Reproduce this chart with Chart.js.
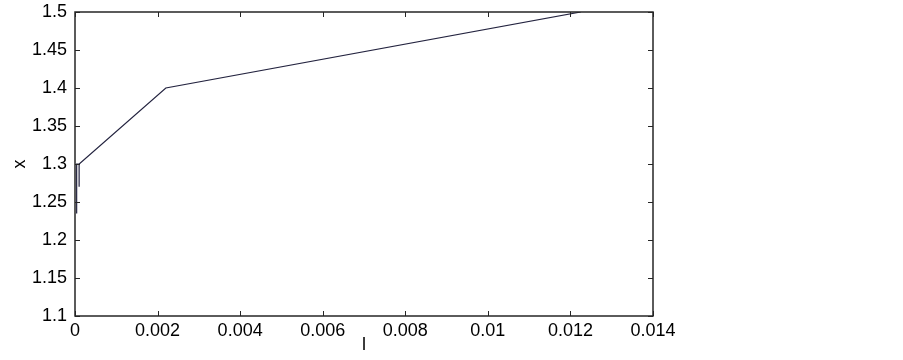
<!DOCTYPE html>
<html>
<head>
<meta charset="utf-8">
<script src="https://cdn.jsdelivr.net/npm/chart.js@4.4.1/dist/chart.umd.min.js"></script>
<style>
  html, body { margin: 0; padding: 0; background: #fff; }
  canvas { display: block; }
</style>
</head>
<body>
<canvas id="chart1" width="903" height="360" style="width:903px;height:360px"></canvas>
<script>

// curve (l on x axis, x on y axis)
const lValues = [0.00004, 0.00004, 0.0001, 0.0001, 0.0001, 0.0022, 0.01225];
const xValues = [1.235, 1.30, 1.30, 1.27, 1.30, 1.40, 1.50];

const xAxisTitle = 'l';
const yAxisTitle = 'x';

function getPoints() {
  var pts = new Array;
  for (let i = 0; i < lValues.length; i++) {
    pts.push({x: lValues[i], y: xValues[i]});
  }
  return pts;
}

function fmt(v) {
  return String(parseFloat(Number(v).toFixed(5)));
}

// box round the plot plus small ticks pointing inwards, like the original
const boxPlugin = {
  id: 'box',
  afterDraw(chart) {
    const ctx = chart.ctx;
    const a = chart.chartArea;
    const xs = chart.scales.x;
    const ys = chart.scales.y;
    const len = 5;
    ctx.save();
    ctx.strokeStyle = '#262626';
    ctx.lineWidth = 1;
    ctx.beginPath();
    xs.ticks.forEach(function(t) {
      const px = Math.round(xs.getPixelForValue(t.value)) + 0.5;
      ctx.moveTo(px, a.bottom); ctx.lineTo(px, a.bottom - len);
      ctx.moveTo(px, a.top); ctx.lineTo(px, a.top + len);
    });
    ys.ticks.forEach(function(t) {
      const py = Math.round(ys.getPixelForValue(t.value)) + 0.5;
      ctx.moveTo(a.left, py); ctx.lineTo(a.left + len, py);
      ctx.moveTo(a.right, py); ctx.lineTo(a.right - len, py);
    });
    ctx.stroke();
    ctx.lineWidth = 1.5;
    ctx.strokeRect(a.left, a.top, a.right - a.left, a.bottom - a.top);
    ctx.restore();
  }
};

Chart.defaults.font.family = '"Liberation Sans", Arial, sans-serif';
Chart.defaults.color = '#000';

const ctx1 = document.getElementById('chart1').getContext('2d');
const chart1 = new Chart(ctx1, {
  type: 'scatter',
  data: {
    datasets: [
      {
        data: getPoints(),
        showLine: true,
        borderColor: '#23233f',
        borderWidth: 1.2,
        pointRadius: 0,
        fill: false,
        tension: 0
      }
    ]
  },
  options: {
    responsive: false,
    animation: false,
    devicePixelRatio: 1,
    layout: { padding: { top: 12, right: 250, left: 0, bottom: 0 } },
    plugins: { legend: { display: false }, tooltip: { enabled: false } },
    scales: {
      x: {
        type: 'linear',
        min: 0,
        max: 0.014,
        grid: { display: false, drawTicks: false },
        border: { display: false },
        ticks: { stepSize: 0.002, padding: 4, maxRotation: 0, font: { size: 18 }, callback: fmt },
        title: { display: true, text: xAxisTitle, font: { size: 18 }, padding: { top: 0, bottom: 4 } },
        afterFit: function(s) { s.height = 44; s.paddingLeft = 0; s.paddingRight = 0; }
      },
      y: {
        type: 'linear',
        min: 1.1,
        max: 1.5,
        grid: { display: false, drawTicks: false },
        border: { display: false },
        ticks: { stepSize: 0.05, padding: 8, font: { size: 18 }, callback: fmt },
        title: { display: true, text: yAxisTitle, font: { size: 18 }, padding: { top: 9, bottom: 0 } },
        afterFit: function(s) { s.width = 75; s.paddingTop = 0; s.paddingBottom = 0; }
      }
    }
  },
  plugins: [boxPlugin]
});

</script>
</body>
</html>
